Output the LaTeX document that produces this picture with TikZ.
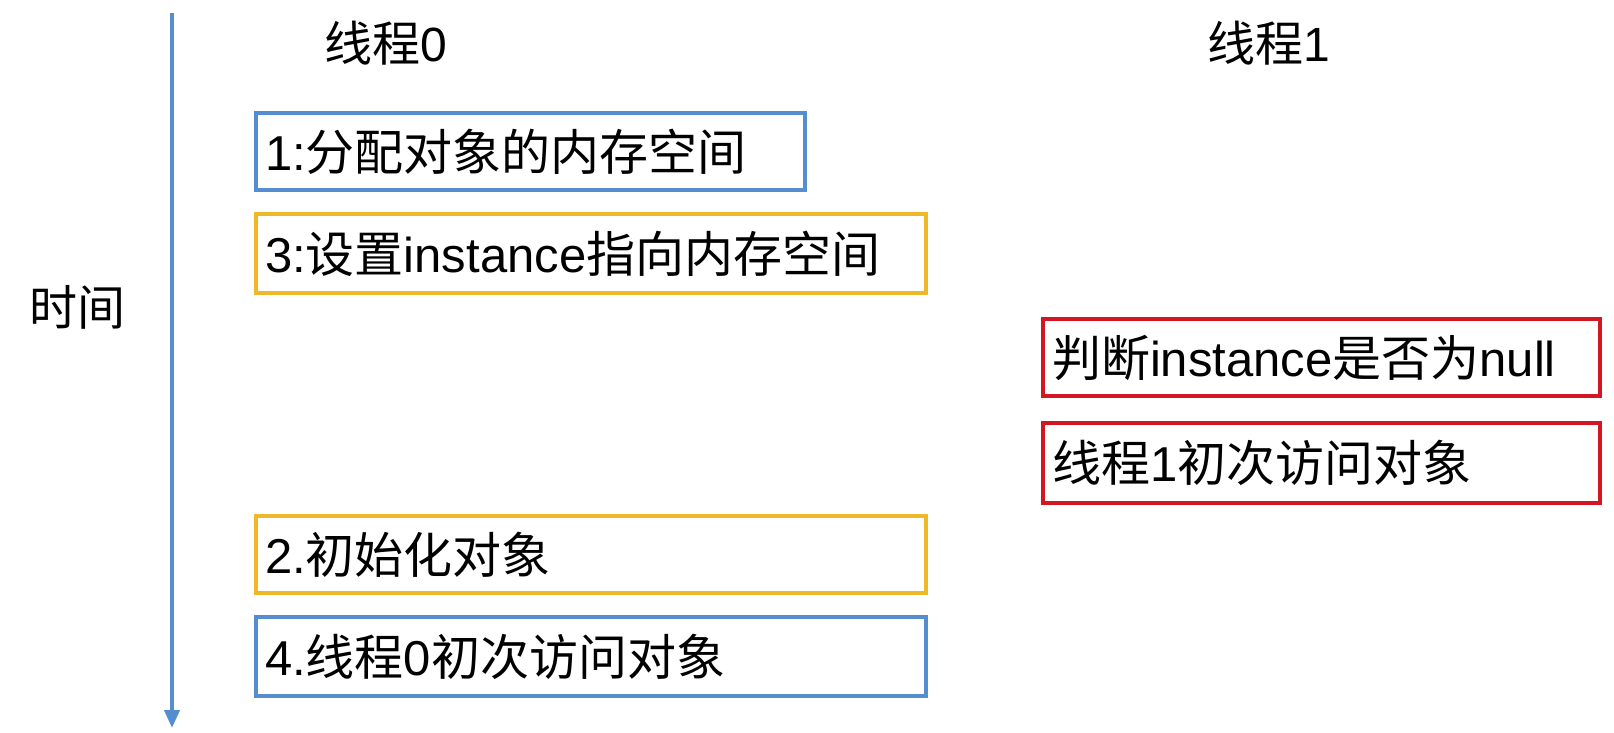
\documentclass[tikz,border=0pt]{standalone}
\usepackage{fontspec}
\setmainfont{Liberation Sans}
\newfontfamily\cjk{Noto Sans CJK SC}
\usetikzlibrary{arrows.meta}
\definecolor{cblue}{RGB}{84,142,208}
\definecolor{cyellow}{RGB}{238,184,40}
\definecolor{cred}{RGB}{212,22,34}
\begin{document}
\begin{tikzpicture}[x=1pt,y=-1pt,
  big/.style={font=\fontsize{48}{56}\selectfont, inner sep=0pt},
  box/.style={draw, line width=4pt, anchor=north west, outer sep=0pt,
    inner xsep=9pt, inner ysep=0pt, align=left,
    font=\fontsize{49}{56}\selectfont},
  axis/.style={draw=cblue, line width=4pt, -{Triangle[length=18pt,width=15pt]}}]
\fill[white] (0,0) rectangle (1614,732);
\useasboundingbox (0,0) rectangle (1614,732);
\coordinate (ttop) at (172,13);
\coordinate (tbot) at (172,728);
\draw[axis] (ttop) -- (tbot);
\node[big] (h0) at (386,43) {{\cjk 线程}0};
\node[big] (h1) at (1269,43) {{\cjk 线程}1};
\node[big] (tm) at (77,307) {\cjk 时间};
\node[box, draw=cblue, text width=531pt, minimum height=77pt] (b1) at (256,113)
  {1:{\cjk 分配对象的内存空间}};
\node[box, draw=cyellow, text width=652pt, minimum height=79pt] (b3) at (256,214)
  {3:{\cjk 设置}instance{\cjk 指向内存空间}};
\node[box, draw=cred, text width=539pt, minimum height=77pt] (r1) at (1043,319)
  {{\cjk 判断}instance{\cjk 是否为}null};
\node[box, draw=cred, text width=539pt, minimum height=80pt] (r2) at (1043,423)
  {{\cjk 线程}1{\cjk 初次访问对象}};
\node[box, draw=cyellow, text width=652pt, minimum height=77pt] (b2) at (256,516)
  {2.{\cjk 初始化对象}};
\node[box, draw=cblue, text width=652pt, minimum height=79pt] (b4) at (256,617)
  {4.{\cjk 线程}0{\cjk 初次访问对象}};
\end{tikzpicture}
\end{document}
